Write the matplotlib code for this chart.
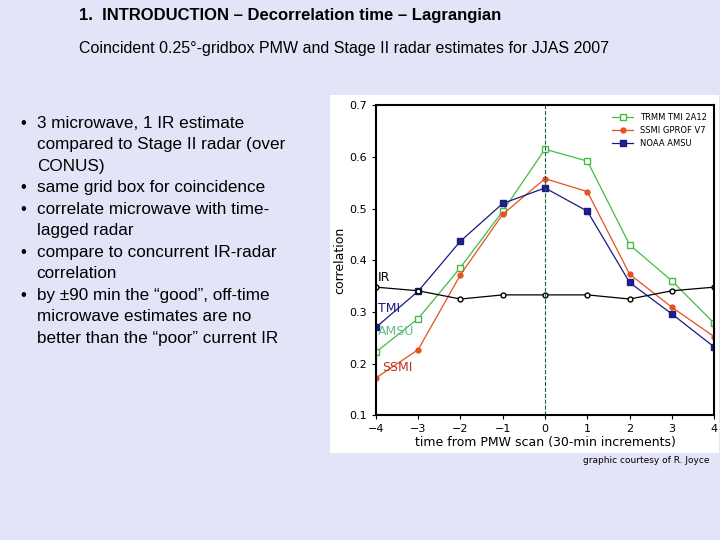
import matplotlib
matplotlib.use("Agg")
import matplotlib.pyplot as plt
from matplotlib.patches import Rectangle

x = [-4, -3, -2, -1, 0, 1, 2, 3, 4]
tmi = [0.222, 0.287, 0.386, 0.495, 0.615, 0.592, 0.430, 0.360, 0.278]
ssmi = [0.172, 0.227, 0.372, 0.489, 0.558, 0.533, 0.373, 0.309, 0.252]
amsu = [0.270, 0.340, 0.437, 0.510, 0.540, 0.495, 0.357, 0.296, 0.232]
ir = [0.348, 0.341, 0.325, 0.333, 0.333, 0.333, 0.325, 0.341, 0.348]

fig = plt.figure(figsize=(7.2, 5.4), dpi=100)
fig.patch.set_facecolor("#e4e4f8")

fig.text(0.11, 0.972, "1.  INTRODUCTION – Decorrelation time – Lagrangian", fontsize=12,
         fontweight="bold", family="Liberation Sans", va="center")
fig.text(0.11, 0.911, "Coincident 0.25°-gridbox PMW and Stage II radar estimates for JJAS 2007",
         fontsize=11.5, family="Liberation Sans", va="center")

bullets = ["3 microwave, 1 IR estimate\ncompared to Stage II radar (over\nCONUS)",
           "same grid box for coincidence",
           "correlate microwave with time-\nlagged radar",
           "compare to concurrent IR-radar\ncorrelation",
           "by ±90 min the “good”, off-time\nmicrowave estimates are no\nbetter than the “poor” current IR"]
y = 0.772
for b in bullets:
    lines = b.split("\n")
    fig.text(0.028, y, "•", fontsize=12, family="Liberation Sans", va="center")
    for ln in lines:
        fig.text(0.051, y, ln, fontsize=12.3, family="Liberation Sans", va="center")
        y -= 0.0398

bg = Rectangle((0.458, 0.161), 0.54, 0.663, transform=fig.transFigure,
               facecolor="white", edgecolor="none", zorder=-1)
fig.patches.append(bg)

ax = fig.add_axes([0.522, 0.231, 0.470, 0.574])
ax.set_zorder(2)
ax.plot(x, tmi, color="#44bb44", lw=0.9, marker="s", ms=4, mfc="white", mec="#44bb44", label="TRMM TMI 2A12")
ax.plot(x, ssmi, color="#e85020", lw=0.9, marker="o", ms=3.5, label="SSMI GPROF V7")
ax.plot(x, amsu, color="#1a1a80", lw=0.9, marker="s", ms=5, mfc="#202090", label="NOAA AMSU")
ax.plot(x, ir, color="black", lw=0.9, marker="o", ms=3.5, mfc="white")
ax.axvline(0, color="#206040", ls="--", lw=0.8)
ax.set_xlim(-4, 4)
ax.set_ylim(0.1, 0.7)
ax.set_xticks(x)
ax.set_xticklabels(["−4", "−3", "−2", "−1", "0", "1", "2", "3", "4"])
ax.set_yticks([0.1, 0.2, 0.3, 0.4, 0.5, 0.6, 0.7])
ax.tick_params(labelsize=8, length=3)
for s in ax.spines.values():
    s.set_linewidth(1.5)
ax.set_ylabel("correlation", fontsize=9, labelpad=2)
ax.set_xlabel("time from PMW scan (30-min increments)", fontsize=9, labelpad=1)
ax.legend(loc="upper right", fontsize=6, frameon=False, handlelength=2.5)
ax.text(-3.95, 0.36, "IR", fontsize=9, color="black")
ax.text(-3.95, 0.30, "TMI", fontsize=9, color="#1a1a80")
ax.text(-3.95, 0.255, "AMSU", fontsize=9, color="#66bb88")
ax.text(-3.85, 0.185, "SSMI", fontsize=9, color="#c03020")

fig.text(0.985, 0.147, "graphic courtesy of R. Joyce", fontsize=6.5, ha="right", va="center")

fig.savefig("out.png", dpi=100, facecolor=fig.get_facecolor())
